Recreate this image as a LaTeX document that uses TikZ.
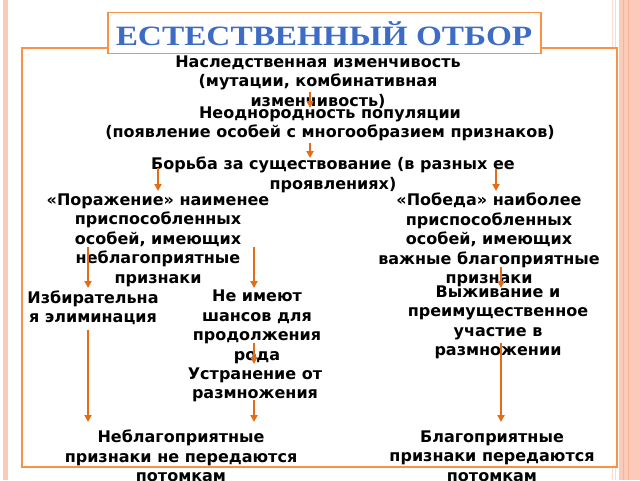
\documentclass[tikz,border=0pt]{standalone}
\usepackage{fontspec}
\setmainfont{DejaVu Sans}
\newfontfamily\titlefont{Liberation Serif}
\usetikzlibrary{arrows.meta}
\definecolor{boxorange}{RGB}{250,145,70}
\definecolor{arrorange}{RGB}{228,108,20}
\definecolor{salmon}{RGB}{252,202,184}
\definecolor{salmondark}{RGB}{248,178,150}
\definecolor{titleblue}{RGB}{60,108,196}
\tikzset{
  txt/.style={font=\fontsize{16}{19.5}\selectfont\bfseries, align=center, inner sep=0pt, text=black},
  arr/.style={draw=arrorange, line width=1.8pt, -{Triangle[length=7pt,width=7pt]}},
}
\begin{document}
\begin{tikzpicture}[x=1pt,y=-1pt]
\useasboundingbox (0,0) rectangle (640,480);
\fill[white] (0,0) rectangle (640,480);
% decorative stripes
\fill[salmon] (3,0) rectangle (7.5,480);
\fill[salmon] (619,0) rectangle (640,480);
\draw[salmondark, line width=1pt] (623,0) -- (623,480);
\draw[salmondark, line width=1pt] (628,0) -- (628,480);
\draw[salmon!70, line width=0.8pt] (612,0) -- (612,480);
\draw[salmon!70, line width=0.8pt] (615,0) -- (615,480);
% main box
\draw[boxorange, line width=1.6pt, fill=white] (22,48) rectangle (617,467);
% title
\node[draw=boxorange, line width=1.6pt, fill=white, minimum width=433pt, minimum height=41pt, inner sep=0pt] (titlebox) at (324.5,33) {};
\node[font=\titlefont\bfseries\fontsize{28}{30}\selectfont, text=titleblue, inner sep=0pt] (title) at (324,34) {\scalebox{1.19}[1]{ЕСТЕСТВЕННЫЙ ОТБОР}};
% text nodes
\node[txt] (n1) at (318,82) {Наследственная изменчивость\\(мутации, комбинативная\\изменчивость)};
\node[txt] (n2) at (330,124) {Неоднородность популяции\\(появление особей с многообразием признаков)};
\node[txt] (n3) at (333,175) {Борьба за существование (в разных ее\\проявлениях)};
\node[txt] (n4) at (158,240) {«Поражение» наименее\\приспособленных\\особей, имеющих\\неблагоприятные\\признаки};
\node[txt] (n5) at (489,240) {«Победа» наиболее\\приспособленных\\особей, имеющих\\важные благоприятные\\признаки};
\node[txt] (n6) at (93,308) {Избирательна\\я элиминация};
\node[txt] (n7) at (257,327) {Не имеют\\шансов для\\продолжения\\рода};
\node[txt] (n8) at (255,385) {Устранение от\\размножения};
\node[txt] (n9) at (498,322.5) {Выживание и\\преимущественное\\участие в\\размножении};
\node[txt] (n10) at (181,456) {Неблагоприятные\\признаки не передаются\\потомкам};
\node[txt] (n11) at (492,456) {Благоприятные\\признаки передаются\\потомкам};
% arrow coordinates
\coordinate (a1s) at (310,92); \coordinate (a1e) at (310,108);
\coordinate (a2s) at (310,143); \coordinate (a2e) at (310,158);
\coordinate (a3s) at (158,168); \coordinate (a3e) at (158,191);
\coordinate (a4s) at (496,169); \coordinate (a4e) at (496,191);
\coordinate (a5s) at (88,247); \coordinate (a5e) at (88,288);
\coordinate (a6s) at (254,247); \coordinate (a6e) at (254,288);
\coordinate (a7s) at (501,267); \coordinate (a7e) at (501,288);
\coordinate (a8s) at (88,330); \coordinate (a8e) at (88,422);
\coordinate (a9s) at (254,343); \coordinate (a9e) at (254,364);
\coordinate (a10s) at (254,400); \coordinate (a10e) at (254,422);
\coordinate (a11s) at (501,343); \coordinate (a11e) at (501,422);
\foreach \i in {1,...,11} { \draw[arr] (a\i s) -- (a\i e); }
\end{tikzpicture}
\end{document}
